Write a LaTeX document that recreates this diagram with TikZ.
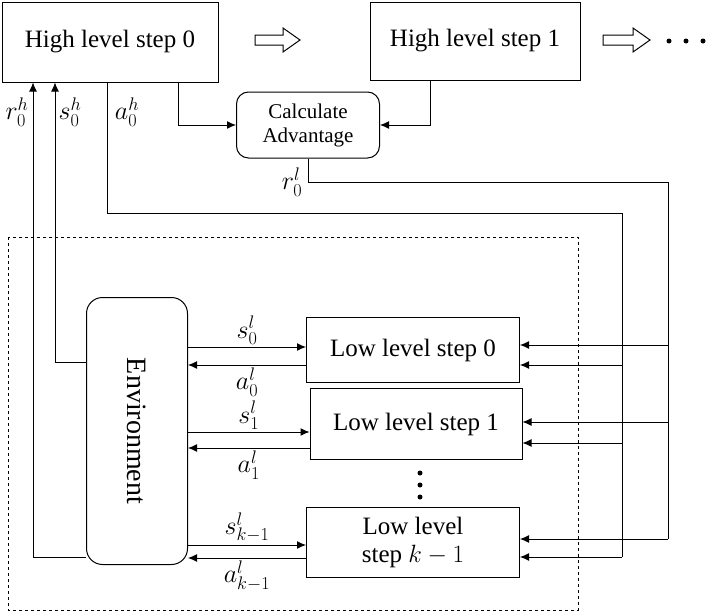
\RequirePackage{fix-cm}
\documentclass[tikz,border=0pt]{standalone}
\usepackage{fontspec}
\setmainfont{Liberation Serif}
\usetikzlibrary{positioning}
\usetikzlibrary{arrows.meta}
\usetikzlibrary{calc}
\tikzset{
   box/.style = {%
    shape=rectangle,
    draw=black,
    line width=1pt,
    align=center,
    inner sep=0pt,
    font=\fontsize{25}{28}\selectfont},
   lbl/.style = {font=\fontsize{26}{26}\selectfont},
   arrow/.style = {%
    draw=black,
    line width=1pt,
    -{Latex[length=9pt,width=8pt]}},
   line/.style = {draw=black, line width=1pt},
   hollow/.style = {draw=black, line width=1pt, fill=white},
   dot/.style = {fill=black, circle, inner sep=0pt, minimum size=5pt},
    }
\begin{document}
\begin{tikzpicture}[x=1pt,y=-1pt]
    \useasboundingbox (0,0) rectangle (724,613);
    % top row
    \node[box, minimum width=216pt, minimum height=80pt] (high0) at (110,42) {High level step 0};
    \node[box, minimum width=210pt, minimum height=78pt] (high1) at (475,41) {High level step 1};
    \draw[hollow] (255,35) -- (283,35) -- (283,28) -- (300,40) -- (283,52) -- (283,45) -- (255,45) -- cycle;
    \draw[hollow] (603,35) -- (633,35) -- (633,28) -- (650,40) -- (633,52) -- (633,45) -- (603,45) -- cycle;
    \foreach \x in {669,686,703} \node[dot] at (\x,41) {};
    \node[box, rounded corners=12pt, minimum width=143pt, minimum height=66pt,
          font=\fontsize{21}{24}\selectfont] (adv) at (308,125) {Calculate\\Advantage};
    % low level
    \draw[dashed, line width=1pt] (8,237) rectangle (578,610);
    \node[box, rounded corners=16pt, minimum width=101pt, minimum height=267pt] (env) at (137,431) {};
    \node[rotate=-90, font=\fontsize{28}{28}\selectfont] at (env.center) {Environment};
    \node[box, minimum width=213pt, minimum height=65pt] (low0) at (413,350) {Low level step 0};
    \node[box, minimum width=212pt, minimum height=71pt] (low1) at (416,424) {Low level step 1};
    \node[box, minimum width=213pt, minimum height=70pt] (lowk) at (413,542) {Low level\\step $k-1$};
    \foreach \y in {473,485,497} \node[dot] at (420,\y) {};
    % high level links
    \draw[arrow] (high0.south -| 178,0) |- (adv.west);
    \draw[arrow] (high1.south -| 430,0) |- (adv.east);
    \draw[arrow] (env.west |- 0,557) -| (high0.south -| 33,0);
    \draw[arrow] (env.west |- 0,362) -| (high0.south -| 55,0);
    \node[lbl] (rh) at (17,112) {$r_0^h$};
    \node[lbl] (sh) at (70,112) {$s_0^h$};
    \node[lbl] (ah) at (127,112) {$a_0^h$};
    \node[lbl] (rl) at (292,182) {$r_0^l$};
    % reward and action to low level
    \coordinate (rbus) at (668,182);
    \coordinate (abus) at (622,213);
    \draw[line] (adv.south) |- (rbus) -- (rbus |- 0,539);
    \draw[line] (high0.south -| 107,0) |- (abus) -- (abus |- 0,557);
    \foreach \n/\r/\a in {low0/345/365, low1/422/443, lowk/539/557} {
        \draw[arrow] (rbus |- 0,\r) -- (\n.east |- 0,\r);
        \draw[arrow] (abus |- 0,\a) -- (\n.east |- 0,\a);
    }
    % environment exchange
    \foreach \n/\s/\a/\i in {low0/347/365/0, low1/432/448/1, lowk/545/558/{k-1}} {
        \draw[arrow] (env.east |- 0,\s) -- (\n.west |- 0,\s) node[lbl, midway, above, inner sep=2pt] {$s_{\i}^l$};
        \draw[arrow] (\n.west |- 0,\a) -- (env.east |- 0,\a) node[lbl, midway, below, inner sep=2pt] {$a_{\i}^l$};
    }
\end{tikzpicture}
\end{document}
